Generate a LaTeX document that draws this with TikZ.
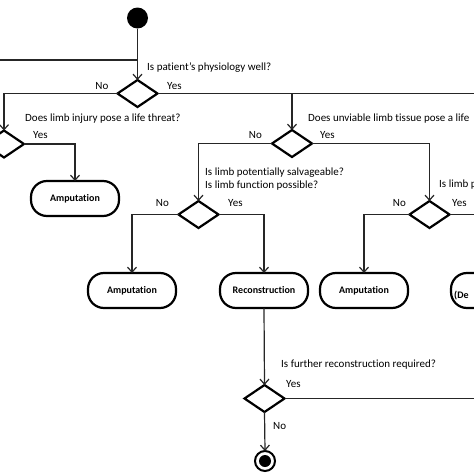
\documentclass[tikz,border=0pt]{standalone}
\usepackage{fontspec}
\setmainfont{Carlito}[Ligatures=NoCommon]
\usetikzlibrary{shapes.geometric,arrows.meta}
\tikzstyle{decision} = [diamond, draw, line width=2.2pt, minimum width=40pt,
  minimum height=27pt, inner sep=0pt, outer sep=0pt]
\tikzstyle{activity} = [rectangle, draw, line width=2.2pt, rounded corners=16pt,
  minimum width=88pt, minimum height=35pt, inner sep=0pt, outer sep=0pt,
  font=\fontsize{10}{12}\selectfont\bfseries]
\tikzstyle{texto} = [inner sep=0pt, anchor=base west,
  font=\fontsize{11}{13}\selectfont]
\tikzset{
    open arrow/.style={-{Straight Barb[length=5pt,width=9pt]}}}
\tikzstyle{line} = [draw, line width=1.2pt, color=black!85, open arrow]
\tikzstyle{plain} = [draw, line width=1.2pt, color=black!85]
\newcommand{\decision}[1]{node (d#1) [decision] {}}
\newcommand{\activity}[2]{node (act#1) [activity] {#2}}

\begin{document}
\begin{tikzpicture}[x=1pt, y=-1pt]
\useasboundingbox (0,0) rectangle (474,474);
\clip (0,0) rectangle (474,474);
% Draw diagram elements
\path (137.5,18) node (start) [circle, fill=black, minimum size=21pt,
  inner sep=0pt] {};
\path (137.5,93.5) \decision{1};
\path (4,144)      \decision{2};
\path (292,143.5)  \decision{3};
\path (198.5,214.5) \decision{4};
\path (429.5,214.5) \decision{5};
\path (264.5,398.5) \decision{6};

\path (75,198.5)  \activity{1}{Amputation};
\path (132,290.5) \activity{2}{Amputation};
\path (264,290.5) \activity{3}{Reconstruction};
\path (364,290.5) \activity{4}{Amputation};
\path (495,290.5) \activity{5}{};
\path (act5.west)+(3,8) node (de) [texto, font=\fontsize{10}{12}\selectfont\bfseries] {(De};

\path (265,461) node (stop) [circle, draw, line width=2pt, minimum size=20pt,
  inner sep=0pt, outer sep=0pt] {};
\path (stop) node (stopdot) [circle, fill=black, minimum size=12pt,
  inner sep=0pt] {};

% Free ends at the border
\coordinate (loopin) at (-5,60);
\coordinate (outR1) at (480,93.5);
\coordinate (outR2) at (480,398.5);

% Questions and branch labels
\path (147,70.5)   node (q1) [texto] {Is patient’s physiology well?};
\path (25,121.5)   node (q2) [texto] {Does limb injury pose a life threat?};
\path (308,121.5)  node (q3) [texto] {Does unviable limb tissue pose a life};
\path (205,175.7)  node (q4a) [texto] {Is limb potentially salvageable?};
\path (205,188.3)  node (q4b) [texto] {Is limb function possible?};
\path (439,187)    node (q5) [texto] {Is limb p};
\path (281,367.7)  node (q6) [texto] {Is further reconstruction required?};

\path (108.5,89.5) node (n1) [texto, anchor=base east] {No};
\path (167,89.5)   node (y1) [texto] {Yes};
\path (33,138.5)   node (y2) [texto] {Yes};
\path (262,138.5)  node (n3) [texto, anchor=base east] {No};
\path (320,138.5)  node (y3) [texto] {Yes};
\path (169,206.7)  node (n4) [texto, anchor=base east] {No};
\path (228,206.7)  node (y4) [texto] {Yes};
\path (406,206.7)  node (n5) [texto, anchor=base east] {No};
\path (452,206.7)  node (y5) [texto] {Yes};
\path (286,387.7)  node (y6) [texto] {Yes};
\path (273,429)    node (n6) [texto] {No};

% Draw arrows between elements
\path [line] (start) -- (d1.north);
\path [plain] (loopin) -- (loopin -| start);
\path [line] (d1.west) -| (d2.north);
\path [line] (d1.east) -| (d3.north);
\path [plain] (d1.east) -- (outR1);
\path [line] (d2.east) -| (act1.north);
\path [line] (d3.west) -| (d4.north);
\path [line] (d3.east) -| (d5.north);
\path [line] (d4.west) -| (act2.north);
\path [line] (d4.east) -| (act3.north);
\path [line] (d5.west) -| (act4.north);
\path [line] (d5.east) -| (act5.north);
\path [line] (act3.south) -- (d6.north);
\path [plain] (d6.east) -- (outR2);
\path [line] (d6.south) -- (stop.north);
\end{tikzpicture}
\end{document}
